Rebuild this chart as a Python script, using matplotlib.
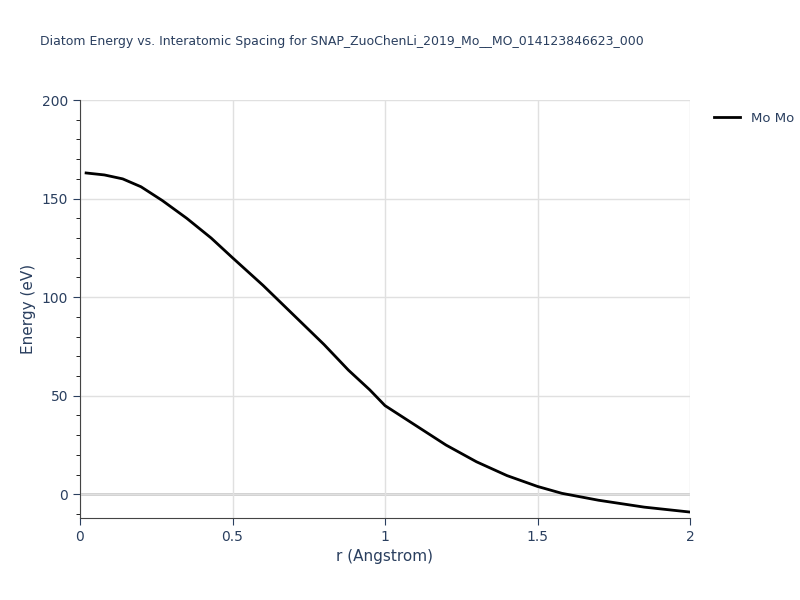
import matplotlib.pyplot as plt

r = [0.02, 0.08, 0.14, 0.2, 0.27, 0.35, 0.43, 0.5, 0.6, 0.7, 0.8, 0.88, 0.95, 1.0,
     1.1, 1.2, 1.3, 1.4, 1.5, 1.58, 1.7, 1.85, 2.0]
energy = [163, 162, 160, 156, 149, 140, 130, 120, 106, 91, 76, 63, 53, 45,
          35, 25, 16.5, 9.5, 4, 0.5, -3, -6.5, -9]

fig = plt.figure(figsize=(8, 6), dpi=100)
ax = fig.add_axes([0.1, 0.1367, 0.7625, 0.6966])
ax.plot(r, energy, color='black', lw=2, label='Mo Mo')
ax.axhline(0, color='#cccccc', lw=2, zorder=0)
ax.set_xlim(0, 2)
ax.set_ylim(-12, 200)
ax.set_xticks([0, 0.5, 1, 1.5, 2])
ax.set_xticklabels(['0', '0.5', '1', '1.5', '2'])
ax.set_yticks([0, 50, 100, 150, 200])
ax.grid(color='#e0e0e0', lw=1)
ax.set_axisbelow(True)
for s in ['top', 'right']:
    ax.spines[s].set_visible(False)
for s in ['left', 'bottom']:
    ax.spines[s].set_color('#444444')
ax.tick_params(colors='#2a3f5f', labelsize=10, length=5)
ax.tick_params(axis='y', which='minor', length=3)
ax.set_yticks(range(-10, 200, 10), minor=True)
ax.set_xlabel('r (Angstrom)', color='#2a3f5f', fontsize=11)
ax.set_ylabel('Energy (eV)', color='#2a3f5f', fontsize=11)
fig.text(0.05, 0.925, 'Diatom Energy vs. Interatomic Spacing for SNAP_ZuoChenLi_2019_Mo__MO_014123846623_000',
         color='#2a3f5f', fontsize=9)
ax.legend(loc='upper left', bbox_to_anchor=(1.02, 1.0), frameon=False,
          labelcolor='#2a3f5f', fontsize=9.5, handlelength=2)
fig.savefig('out.png')
